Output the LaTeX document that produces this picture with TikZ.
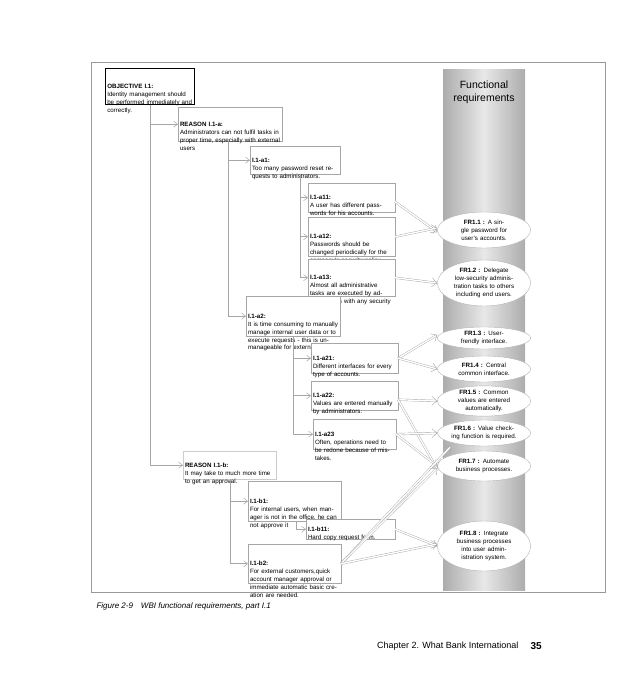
\documentclass[tikz,border=0pt]{standalone}
\usepackage{fontspec}
\setmainfont{Liberation Sans}
\usetikzlibrary{shapes.geometric,arrows.meta}
\begin{document}
\begin{tikzpicture}[x=1pt,y=-1pt,
 box/.style={draw=gray!70,fill=white,anchor=north west,align=left,inner sep=1.8pt,font=\fontsize{6.2}{7.9}\selectfont,text depth=0pt},
 fr/.style={ellipse,draw=gray!60,fill=white,align=center,inner sep=0pt,minimum width=84pt,text width=66pt,font=\fontsize{6.2}{7.9}\selectfont},
 treeline/.style={draw=gray!70,line width=0.5pt,-{Straight Barb[length=4pt,width=6pt]}},
 hollow/.style={draw=gray!70,double=white,double distance=1.4pt,line width=0.4pt,-{Straight Barb[length=5pt,width=9pt]}}]
\useasboundingbox (0,0) rectangle (638,676);
\draw[gray!80,line width=0.8pt] (91,62) rectangle (605,592);
\shade[left color=gray!65,right color=gray!65,middle color=gray!18] (443,70) rectangle (525,590);
\node[align=center,font=\fontsize{10.5}{13}\selectfont] (title) at (484,92) {Functional\\requirements};

\node[box,draw=black,line width=1pt,text width=85pt,minimum height=36pt] (obj) at (105,68) {\textbf{OBJECTIVE I.1:}\\Identity management should be performed immediately and correctly.};
\node[box,text width=100pt,minimum height=34pt] (ra) at (178,107) {\textbf{REASON I.1-a:}\\Administrators can not fulfil tasks in proper time, especially with external users};
\node[box,text width=86pt,minimum height=28pt] (a1) at (250,146) {\textbf{I.1-a1:}\\Too many password reset requests to administrators.};
\node[box,text width=83pt,minimum height=29pt] (a11) at (308,183) {\textbf{I.1-a11:}\\A user has different passwords for his accounts.};
\node[box,text width=83pt,minimum height=39pt] (a12) at (308,217) {\textbf{I.1-a12:}\\Passwords should be changed periodically for the company's security policy.};
\node[box,text width=83pt,minimum height=37pt] (a13) at (308,259) {\textbf{I.1-a13:}\\Almost all administrative tasks are executed by administrators with any security level.};
\node[box,text width=90pt,minimum height=40pt] (a2) at (246,296) {\textbf{I.1-a2:}\\It is time consuming to manually manage internal user data or to execute requests - this is unmanageable for external users};
\node[box,text width=83pt,minimum height=30pt] (a21) at (311,343) {\textbf{I.1-a21:}\\Different interfaces for every type of accounts.};
\node[box,text width=83pt,minimum height=29pt] (a22) at (311,381) {\textbf{I.1-a22:}\\Values are entered manually by administrators.};
\node[box,text width=79pt,minimum height=30pt] (a23) at (313,419) {\textbf{I.1-a23}\\Often, operations need to be redone because of mistakes.};
\node[box,draw=gray!40,text width=89pt,minimum height=28pt] (rb) at (183,451) {\textbf{REASON I.1-b:}\\It may take to much more time to get an approval.};
\node[box,text width=89pt,minimum height=40pt] (b1) at (248,481) {\textbf{I.1-b1:}\\For internal users, when manager is not in the office, he can not approve it};
\node[box,text width=85pt,minimum height=20pt] (b11) at (306,519) {\textbf{I.1-b11:}\\Hard copy request form.};
\node[box,text width=89pt,minimum height=39pt] (b2) at (248,544) {\textbf{I.1-b2:}\\For external customers,quick account manager approval or immediate automatic basic creation are needed.};

\draw[treeline] ([xshift=45pt]obj.south west) |- (ra.west);
\draw[treeline] ([xshift=45pt]obj.south west) |- (rb.west);
\draw[treeline] ([xshift=50pt]ra.south west) |- (a1.west);
\draw[treeline] ([xshift=50pt]ra.south west) |- (a2.west);
\draw[treeline] ([xshift=50pt]a1.south west) |- (a11.west);
\draw[treeline] ([xshift=50pt]a1.south west) |- (a12.west);
\draw[treeline] ([xshift=50pt]a1.south west) |- (a13.west);
\draw[treeline] ([xshift=47pt]a2.south west) |- (a21.west);
\draw[treeline] ([xshift=47pt]a2.south west) |- (a22.west);
\draw[treeline] ([xshift=47pt]a2.south west) |- (a23.west);
\draw[treeline] ([xshift=47pt]rb.south west) |- (b1.west);
\draw[treeline] ([xshift=47pt]rb.south west) |- (b2.west);
\draw[treeline] ([xshift=48pt]b1.south west) |- (b11.west);

\node[fr,minimum height=36pt] (f1) at (484,230) {\textbf{FR1.1 :} A single password for user's accounts.};
\node[fr,minimum height=46pt] (f2) at (484,283) {\textbf{FR1.2 :} Delegate low-security administration tasks to others including end users.};
\node[fr,minimum height=22pt] (f3) at (484,338) {\textbf{FR1.3 :} User-frendly interface.};
\node[fr,minimum height=26pt] (f4) at (484,369) {\textbf{FR1.4 :} Central common interface.};
\node[fr,minimum height=26pt] (f5) at (484,401) {\textbf{FR1.5 :} Common values are entered automatically.};
\node[fr,minimum height=26pt] (f6) at (484,433) {\textbf{FR1.6 :} Value checking function is required.};
\node[fr,minimum height=30pt] (f7) at (484,466) {\textbf{FR1.7 :} Automate business processes.};
\node[fr,minimum height=50pt] (f8) at (484,546) {\textbf{FR1.8 :} Integrate business processes into user administration system.};

\draw[hollow] ([yshift=-4pt]a11.east) -- ([yshift=-2pt]f1.west);
\draw[hollow] (a12.east) -- ([yshift=2pt]f1.west);
\draw[hollow] (a13.east) -- (f2.west);
\draw[hollow] (a21.east) -- ([yshift=3pt]f3.west);
\draw[hollow] (a21.east) -- (f4.west);
\draw[hollow] ([yshift=-4pt]a22.east) -- (f5.west);
\draw[hollow] ([yshift=-4pt]a22.east) -- ([yshift=-3pt]f7.west);
\draw[hollow] (a23.east) -- (f6.west);
\draw[hollow] (a23.east) -- (f7.west);
\draw[hollow] (b2.east) -- ([yshift=-4pt]f6.south west);
\draw[hollow] (b2.east) -- ([yshift=-2pt]f7.west);
\draw[hollow] (b11.east) -- (f8.west);
\draw[hollow] (b2.east) -- ([yshift=2pt]f8.west);

\node[anchor=west,font=\fontsize{8}{10}\selectfont\itshape] (cap) at (93,606) {Figure 2-9\quad WBI functional requirements, part I.1};
\node[anchor=east,font=\fontsize{9}{11}\selectfont] (foot) at (522,646) {Chapter 2. What Bank International};
\node[anchor=west,font=\fontsize{10}{12}\selectfont\bfseries] (pg) at (527,646) {35};
\end{tikzpicture}
\end{document}
